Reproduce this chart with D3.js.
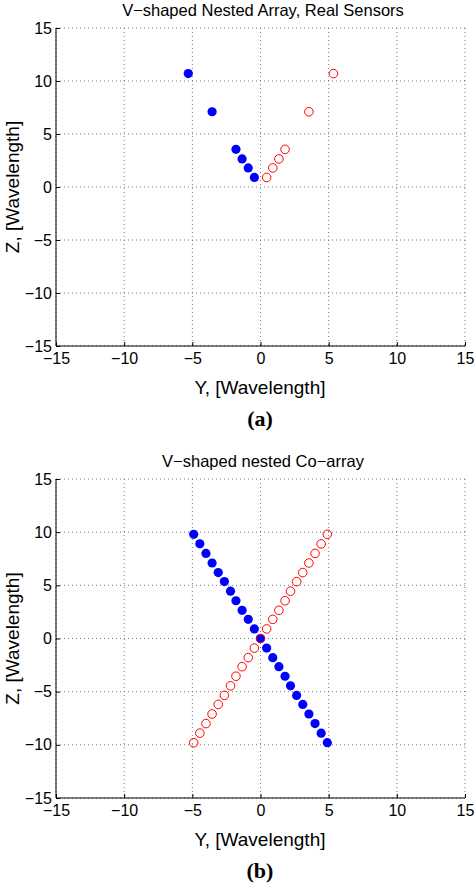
<!DOCTYPE html>
<html><head><meta charset="utf-8">
<script src="https://cdn.jsdelivr.net/npm/d3@7"></script>
<style>body{margin:0;background:#fff}svg{display:block}</style>
</head><body>
<script>
const ticks = [-15,-10,-5,0,5,10,15];
const realBlueY = [-5.3,-3.55,-1.8,-1.35,-0.9,-0.45];
const realBlueZ = [10.7,7.1,3.55,2.65,1.8,0.9];
const realRedY = [0.45,0.9,1.35,1.8,3.55,5.35];
const realRedZ = [0.9,1.8,2.65,3.55,7.1,10.7];
const coY = [-4.9,-4.45,-4.0,-3.55,-3.1,-2.65,-2.2,-1.8,-1.35,-0.9,-0.45,0,0.45,0.9,1.35,1.8,2.2,2.65,3.1,3.55,4.0,4.45,4.9];
const coBlueZ = [9.8,8.9,8.0,7.1,6.2,5.35,4.45,3.55,2.65,1.8,0.9,0,-0.9,-1.8,-2.65,-3.55,-4.45,-5.35,-6.2,-7.1,-8.0,-8.9,-9.8];
const coRedZ = [-9.8,-8.9,-8.0,-7.1,-6.2,-5.35,-4.45,-3.55,-2.65,-1.8,-0.9,0,0.9,1.8,2.65,3.55,4.45,5.35,6.2,7.1,8.0,8.9,9.8];

const W=474,H=885;
const svg=d3.select("body").append("svg").attr("width",W).attr("height",H);
const font="Liberation Sans, Arial, sans-serif";

function panel(top,bottom,title,label,blue,red){
  const x=d3.scaleLinear().domain([-15,15]).range([56,465]);
  const y=d3.scaleLinear().domain([-15,15]).range([bottom,top]);
  const g=svg.append("g");
  ticks.forEach(t=>{
    g.append("line").attr("x1",x(t)).attr("x2",x(t)).attr("y1",top).attr("y2",bottom)
      .attr("stroke","#555").attr("stroke-width",0.8).attr("stroke-dasharray","1,3");
    g.append("line").attr("y1",y(t)).attr("y2",y(t)).attr("x1",56).attr("x2",465)
      .attr("stroke","#555").attr("stroke-width",0.8).attr("stroke-dasharray","1,3");
  });
  const ax=g.append("g").attr("transform",`translate(0,${bottom})`)
    .call(d3.axisBottom(x).tickValues(ticks).tickSize(-4).tickPadding(7).tickFormat(d=>d<0?"\u2212"+(-d):d));
  const ay=g.append("g").attr("transform",`translate(56,0)`)
    .call(d3.axisLeft(y).tickValues(ticks).tickSize(-4).tickPadding(4).tickFormat(d=>d<0?"\u2212"+(-d):d));
  [ax,ay].forEach(a=>{a.select(".domain").remove();a.selectAll("text").attr("font-family",font).attr("font-size",16).attr("fill","#000");a.selectAll("line").attr("stroke","#000");});
  g.append("line").attr("x1",56).attr("x2",465).attr("y1",bottom).attr("y2",bottom).attr("stroke","#000");
  g.append("line").attr("x1",56).attr("x2",56).attr("y1",top).attr("y2",bottom).attr("stroke","#000");
  g.selectAll(".b").data(blue).join("circle").attr("cx",d=>x(d[0])).attr("cy",d=>y(d[1])).attr("r",4.6).attr("fill","#0000ff");
  g.selectAll(".r").data(red).join("circle").attr("cx",d=>x(d[0])).attr("cy",d=>y(d[1])).attr("r",4.3).attr("fill","none").attr("stroke","#ff0000").attr("stroke-width",1);
  g.append("text").attr("x",263).attr("y",top-12).attr("text-anchor","middle").attr("font-family",font).attr("font-size",16.5).text(title);
  g.append("text").attr("x",260).attr("y",bottom+48).attr("text-anchor","middle").attr("font-family",font).attr("font-size",19).text("Y, [Wavelength]");
  g.append("text").attr("transform",`translate(19,${(top+bottom)/2}) rotate(-90)`).attr("text-anchor","middle").attr("font-family",font).attr("font-size",19).text("Z, [Wavelength]");
  g.append("text").attr("x",260).attr("y",bottom+80).attr("text-anchor","middle").attr("font-family","Liberation Serif, Times New Roman, serif").attr("font-weight","bold").attr("font-size",22).text(label);
}
panel(28,346,"V\u2212shaped Nested Array, Real Sensors","(a)",
  realBlueY.map((v,i)=>[v,realBlueZ[i]]), realRedY.map((v,i)=>[v,realRedZ[i]]));
panel(479,798,"V\u2212shaped nested Co\u2212array","(b)",
  coY.map((v,i)=>[v,coBlueZ[i]]), coY.map((v,i)=>[v,coRedZ[i]]));
</script>
</body></html>
